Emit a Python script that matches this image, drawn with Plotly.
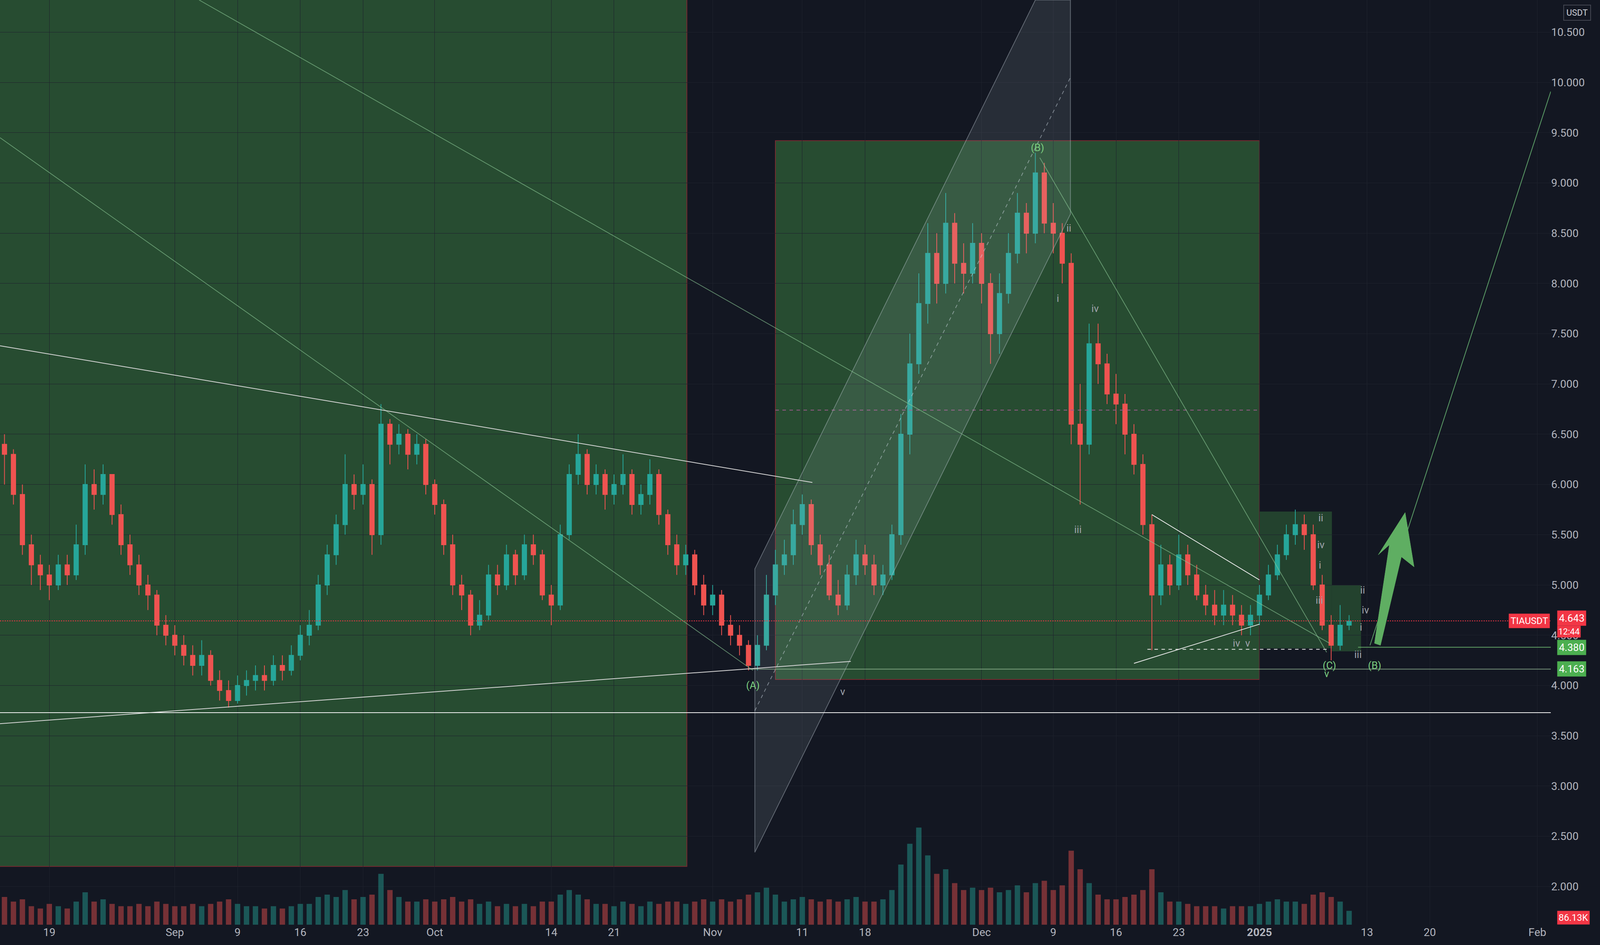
import plotly.graph_objects as go
import pandas as pd

dates = pd.date_range("2024-08-14", "2025-01-11", freq="D")

closes = [6.3,5.9,5.4,5.2,5.1,5.0,5.2,5.1,5.4,6.0,5.9,6.1,5.7,5.4,5.2,5.0,4.9,4.6,
 4.5,4.4,4.3,4.2,4.3,4.05,3.95,3.85,4.0,4.05,4.1,4.05,4.2,4.15,4.3,4.5,4.6,5.0,5.3,5.6,6.0,5.9,6.0,5.5,6.6,6.4,6.5,6.3,6.4,6.0,
 5.8,5.4,5.0,4.9,4.6,4.7,5.1,5.0,5.3,5.1,5.4,5.3,4.9,4.8,5.5,6.1,6.3,6.0,6.1,5.9,6.0,6.1,5.8,5.9,6.1,5.7,5.4,5.2,5.3,5.0,4.8,
 4.9,4.6,4.5,4.4,4.2,4.4,4.9,5.2,5.3,5.6,5.8,5.4,5.2,4.9,4.8,5.1,5.3,5.2,5.0,5.1,5.5,6.5,7.2,7.8,8.3,8.0,8.6,8.2,8.1,8.4,
 8.0,7.5,7.9,8.3,8.7,8.5,9.1,8.6,8.5,8.2,6.6,6.4,7.4,7.2,6.9,6.8,6.5,6.2,5.6,4.9,5.2,5.0,5.3,5.1,4.9,4.8,4.7,4.8,4.7,4.6,4.7,
 4.9,5.1,5.3,5.5,5.6,5.5,5.0,4.6,4.4,4.6,4.64]
highs = [6.5,6.35,6.0,5.5,5.3,5.2,5.3,5.3,5.6,6.2,6.15,6.2,6.1,5.8,5.5,5.3,5.1,4.95,
 4.7,4.6,4.5,4.4,4.45,4.35,4.15,4.05,4.1,4.15,4.2,4.2,4.3,4.3,4.4,4.6,4.75,5.1,5.4,5.7,6.3,6.1,6.2,6.05,6.8,6.65,6.6,6.55,6.5,6.45,
 6.05,5.85,5.5,5.1,4.95,4.85,5.2,5.2,5.4,5.35,5.5,5.5,5.35,5.0,5.6,6.2,6.5,6.35,6.2,6.15,6.1,6.3,6.15,6.0,6.25,6.15,5.75,5.5,5.4,5.35,5.1,
 5.0,4.95,4.7,4.6,4.45,4.5,5.1,5.35,5.45,5.75,5.9,5.85,5.5,5.3,5.05,5.2,5.45,5.4,5.3,5.2,5.6,6.7,7.5,8.1,8.6,8.5,8.9,8.7,8.4,8.6,
 8.5,8.1,8.1,8.5,8.9,8.8,9.3,9.2,8.8,8.6,8.3,7.0,7.6,7.6,7.3,7.1,6.9,6.6,6.3,5.7,5.4,5.3,5.5,5.4,5.2,5.0,4.95,4.95,4.9,4.8,4.8,
 5.0,5.2,5.4,5.6,5.75,5.7,5.6,5.1,4.7,4.8,4.7]
lows = [6.0,5.8,5.3,5.0,4.95,4.85,4.95,5.0,5.05,5.3,5.75,5.8,5.6,5.3,5.1,4.9,4.75,4.5,
 4.4,4.3,4.2,4.1,4.1,4.0,3.85,3.78,3.82,3.9,3.95,3.95,4.0,4.05,4.1,4.25,4.4,4.55,4.9,5.2,5.5,5.75,5.8,5.3,5.4,6.2,6.3,6.15,6.2,5.9,
 5.7,5.3,4.9,4.75,4.5,4.55,4.65,4.9,4.95,5.0,5.05,5.2,4.85,4.6,4.75,5.45,6.0,5.9,5.9,5.75,5.8,5.9,5.7,5.7,5.8,5.6,5.3,5.1,5.1,4.9,4.7,
 4.7,4.5,4.4,4.3,4.15,4.15,4.35,4.8,5.1,5.2,5.5,5.3,5.1,4.85,4.7,4.75,5.0,5.1,4.9,4.9,5.05,5.4,6.3,7.1,7.6,7.8,7.9,8.0,7.9,8.0,
 7.8,7.2,7.3,7.8,8.2,8.3,8.4,8.5,8.3,8.0,6.4,5.8,6.3,7.0,6.8,6.6,6.3,6.1,5.5,4.35,4.8,4.9,4.95,5.0,4.85,4.7,4.6,4.6,4.6,4.5,4.5,
 4.6,4.85,5.05,5.25,5.4,5.35,4.95,4.55,4.25,4.35,4.55]
volumes = [1.2,1.0,1.1,0.8,0.7,0.9,0.8,0.7,1.0,1.4,1.0,1.1,0.9,0.8,0.8,0.9,0.8,1.0,
 0.9,0.8,0.8,0.9,0.8,0.9,1.0,1.1,0.9,0.8,0.8,0.7,0.8,0.7,0.8,0.9,0.9,1.2,1.3,1.2,1.5,1.1,1.2,1.3,2.2,1.5,1.2,1.0,1.0,1.1,
 1.0,1.1,1.2,1.0,1.1,0.9,1.0,0.8,0.9,0.8,0.9,0.8,1.0,1.0,1.3,1.5,1.3,1.1,0.9,0.9,0.8,1.0,0.9,0.8,1.0,0.9,1.0,1.0,0.9,1.0,1.1,
 1.0,1.1,1.0,1.1,1.3,1.4,1.6,1.3,1.0,1.1,1.2,1.1,1.0,1.1,1.0,1.1,1.2,1.0,1.0,1.1,1.5,2.6,3.5,4.2,3.0,2.2,2.4,1.8,1.5,1.6,
 1.5,1.6,1.4,1.5,1.7,1.4,1.8,1.9,1.5,1.7,3.2,2.4,1.8,1.3,1.1,1.1,1.2,1.3,1.5,2.4,1.4,1.0,1.0,0.9,0.8,0.8,0.8,0.7,0.8,0.8,0.8,
 0.9,1.0,1.1,1.0,1.0,0.9,1.3,1.4,1.2,1.0,0.6]
opens = [6.4] + closes[:-1]
vol_colors = ["rgba(38,166,154,0.45)" if c >= o else "rgba(239,83,80,0.45)" for o, c in zip(opens, closes)]

tick_dates = ["2024-08-19","2024-09-02","2024-09-09","2024-09-16","2024-09-23","2024-10-01","2024-10-14","2024-10-21",
              "2024-11-01","2024-11-11","2024-11-18","2024-12-01","2024-12-09","2024-12-16","2024-12-23","2025-01-01",
              "2025-01-13","2025-01-20","2025-02-01"]
tick_text = ["19","Sep","9","16","23","Oct","14","21","Nov","11","18","Dec","9","16","23","<b>2025</b>","13","20","Feb"]
price_ticks = [2.0,2.5,3.0,3.5,4.0,4.5,5.0,5.5,6.0,6.5,7.0,7.5,8.0,8.5,9.0,9.5,10.0,10.5]

fig = go.Figure()
fig.add_trace(go.Bar(x=dates, y=volumes, marker_color=vol_colors, marker_line_width=0, yaxis="y2", width=86400000*0.6))
fig.add_trace(go.Candlestick(x=dates, open=opens, high=highs, low=lows, close=closes,
    increasing=dict(line=dict(color="#26a69a", width=2), fillcolor="#26a69a"),
    decreasing=dict(line=dict(color="#ef5350", width=2), fillcolor="#ef5350"), whiskerwidth=0))

G = "rgba(52,110,58,0.62)"
shapes = [
    dict(type="rect", x0="2024-08-10", x1="2024-10-29 03:00", y0=2.20, y1=11.5, fillcolor=G, line=dict(color="#7a2a30", width=2), layer="below"),
    dict(type="rect", x0="2024-11-08", x1="2025-01-01", y0=4.06, y1=9.42, fillcolor=G, line=dict(color="#7a2a30", width=2), layer="below"),
    dict(type="rect", x0="2025-01-01", x1="2025-01-09 02:00", y0=4.37, y1=5.73, fillcolor="rgba(52,110,58,0.5)", line=dict(width=0), layer="below"),
    dict(type="rect", x0="2025-01-09 02:00", x1="2025-01-12 08:00", y0=4.34, y1=5.0, fillcolor="rgba(52,110,58,0.5)", line=dict(width=0), layer="below"),
    dict(type="line", x0="2024-11-08", x1="2025-01-01", y0=6.74, y1=6.74, line=dict(color="#9a5a8a", width=2, dash="dash")),
    dict(type="path", path="M 2024-11-05_17:00,5.16 L 2024-12-07_00:00,10.82 L 2024-12-10_22:00,10.82 L 2024-12-10_22:00,8.69 L 2024-11-05_17:00,2.34 Z",
         fillcolor="rgba(180,190,200,0.13)", line=dict(color="rgba(200,210,220,0.4)", width=2)),
    dict(type="line", x0="2024-11-05 17:00", x1="2024-12-10 22:00", y0=3.75, y1=10.05, line=dict(color="rgba(210,220,230,0.5)", width=2, dash="dash")),
    dict(type="line", x0="2024-08-13 12:00", x1="2024-11-05 12:00", y0=9.45, y1=4.15, line=dict(color="rgba(140,200,150,0.6)", width=2)),
    dict(type="line", x0="2024-09-04 17:00", x1="2025-01-08 20:00", y0=10.82, y1=4.42, line=dict(color="rgba(140,200,150,0.6)", width=2)),
    dict(type="line", x0="2024-12-07 12:00", x1="2025-01-08 12:00", y0=9.25, y1=4.33, line=dict(color="rgba(140,200,150,0.6)", width=2)),
    dict(type="line", x0="2025-01-13 08:00", x1="2025-02-02 12:00", y0=4.40, y1=9.91, line=dict(color="rgba(110,190,120,0.8)", width=2)),
    dict(type="line", x0="2024-08-13 12:00", x1="2024-11-12 03:00", y0=7.38, y1=6.02, line=dict(color="#d8d8d8", width=2)),
    dict(type="line", x0="2024-08-13 12:00", x1="2024-11-16 10:00", y0=3.62, y1=4.24, line=dict(color="#d8d8d8", width=2)),
    dict(type="line", x0="2024-08-13 12:00", x1="2025-02-02 12:00", y0=3.73, y1=3.73, line=dict(color="#f0f0f0", width=2)),
    dict(type="line", x0="2024-11-05", x1="2025-02-02 12:00", y0=4.163, y1=4.163, line=dict(color="rgba(160,200,160,0.7)", width=2)),
    dict(type="line", x0="2025-01-12", x1="2025-02-02 12:00", y0=4.38, y1=4.38, line=dict(color="rgba(120,200,120,0.8)", width=2)),
    dict(type="line", x0="2024-08-13 12:00", x1="2025-02-02 12:00", y0=4.643, y1=4.643, line=dict(color="#f23645", width=2, dash="dot")),
    dict(type="line", x0="2024-12-20", x1="2025-01-01", y0=5.70, y1=5.05, line=dict(color="#e8e8e8", width=2)),
    dict(type="line", x0="2024-12-18", x1="2025-01-01", y0=4.22, y1=4.61, line=dict(color="#e8e8e8", width=2)),
    dict(type="line", x0="2024-12-19 12:00", x1="2025-01-08 12:00", y0=4.36, y1=4.36, line=dict(color="#e8e8e8", width=2, dash="dash")),
    dict(type="path", path="M 2025-01-13_20:00,4.42 L 2025-01-15_12:00,5.40 L 2025-01-14_06:00,5.30 L 2025-01-17_06:00,5.72 L 2025-01-18_06:00,5.18 L 2025-01-16_20:00,5.28 L 2025-01-14_12:00,4.40 Z",
         fillcolor="#5fae62", line=dict(color="#5fae62", width=1)),
]

anns = []
def lab(x, y, t, c="#9fa3ab", s=26):
    anns.append(dict(x=x, y=y, text=t, showarrow=False, font=dict(color=c, size=s)))
for x, y, t, c in [("2024-12-07 06:00", 9.35, "(B)", "#7ccf80"), ("2024-11-05 12:00", 4.0, "(A)", "#7ccf80"),
                   ("2024-11-15 12:00", 3.94, "v", "#9fa3ab"), ("2024-12-09 12:00", 7.85, "i", "#9fa3ab"),
                   ("2024-12-10 18:00", 8.55, "ii", "#9fa3ab"), ("2024-12-11 18:00", 5.55, "iii", "#9fa3ab"),
                   ("2024-12-13 16:00", 7.75, "iv", "#9fa3ab"), ("2025-01-08 20:00", 4.2, "(C)", "#7ccf80"),
                   ("2025-01-08 12:00", 4.12, "v", "#7ccf80"), ("2025-01-13 20:00", 4.20, "(B)", "#7ccf80"),
                   ("2025-01-07 20:00", 5.67, "ii", "#9fa3ab"), ("2025-01-07 20:00", 5.4, "iv", "#9fa3ab"),
                   ("2025-01-07 18:00", 5.2, "i", "#9fa3ab"), ("2025-01-07 16:00", 4.85, "iii", "#9fa3ab"),
                   ("2025-01-12 12:00", 4.95, "ii", "#9fa3ab"), ("2025-01-12 20:00", 4.75, "iv", "#9fa3ab"),
                   ("2025-01-12 08:00", 4.58, "i", "#9fa3ab"), ("2025-01-12 00:00", 4.31, "iii", "#9fa3ab"),
                   ("2024-12-30", 4.42, "iv  v", "#9fa3ab")]:
    lab(x, y, t, c)

def tag(y, text, bg, fc="white"):
    anns.append(dict(xref="paper", x=1.004, y=y, yref="y", text=text, showarrow=False, xanchor="left",
                     font=dict(color=fc, size=26, family="Roboto"), bgcolor=bg, borderpad=4))
tag(4.67, "4.643", "#f23645")
anns.append(dict(xref="paper", x=1.004, y=4.535, text="12:44", showarrow=False, xanchor="left",
                 font=dict(color="white", size=22), bgcolor="#f23645", borderpad=2))
tag(4.38, "4.380", "#4caf50")
tag(4.163, "4.163", "#4caf50")
anns.append(dict(xref="paper", x=0.9995, y=4.643, text="TIAUSDT", showarrow=False, xanchor="right",
                 font=dict(color="white", size=24), bgcolor="#f23645", borderpad=4))
anns.append(dict(xref="paper", yref="paper", x=1.004, y=0.0, text="86.13K", showarrow=False, xanchor="left", yanchor="bottom",
                 font=dict(color="white", size=24), bgcolor="#f23645", borderpad=3))
anns.append(dict(xref="paper", yref="paper", x=1.008, y=0.995, text="USDT", showarrow=False, xanchor="left", yanchor="top",
                 font=dict(color="#d1d4dc", size=22), bordercolor="#434651", borderwidth=2, borderpad=6))

fig.update_layout(
    autosize=True, paper_bgcolor="#131722", plot_bgcolor="#131722",
    margin=dict(l=0, r=126, t=0, b=52), showlegend=False, shapes=shapes, annotations=anns,
    font=dict(family="Roboto", color="#b2b5be", size=28),
    xaxis=dict(range=["2024-08-13 12:00", "2025-02-02 12:00"], tickvals=tick_dates, ticktext=tick_text,
               showgrid=True, gridcolor="#1e222d", rangeslider=dict(visible=False), showline=False, zeroline=False, ticks=""),
    yaxis=dict(side="right", range=[1.62, 10.82], tickvals=price_ticks, tickformat=".3f", showgrid=True,
               gridcolor="#1e222d", zeroline=False, ticks=""),
    yaxis2=dict(overlaying="y", range=[0, 40], visible=False, showgrid=False),
)
fig.write_html("out.html", default_width="100vw", default_height="100vh", config={"displayModeBar": False})
with open("out.html") as f:
    html = f.read()
html = html.replace("<head>", "<head><style>html,body{margin:0;padding:0;overflow:hidden;background:#131722}</style>", 1)
with open("out.html", "w") as f:
    f.write(html)
